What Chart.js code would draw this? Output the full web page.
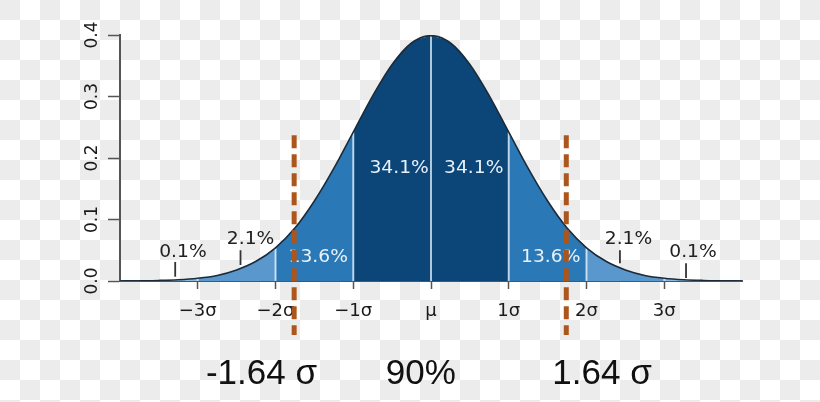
<!DOCTYPE html>
<html>
<head>
<meta charset="utf-8">
<script src="https://cdn.jsdelivr.net/npm/chart.js@4.4.1/dist/chart.umd.min.js"></script>
<style>
  html, body { margin: 0; padding: 0; }
  body {
    width: 820px; height: 402px; overflow: hidden;
    background-color: #ffffff;
    background-image: conic-gradient(#ffffff 25%, #ececec 0 50%, #ffffff 0 75%, #ececec 0);
    background-size: 40px 40px;
  }
  canvas { display: block; }
</style>
</head>
<body>
<canvas id="bellChart" width="820" height="402"></canvas>
<script>
// Standard normal curve (x in sigma units)
const sigmaX = [-4, -3.75, -3.5, -3.25, -3, -2.75, -2.5, -2.25, -2, -1.75, -1.5, -1.25, -1, -0.75, -0.5, -0.25,
                0, 0.25, 0.5, 0.75, 1, 1.25, 1.5, 1.75, 2, 2.25, 2.5, 2.75, 3, 3.25, 3.5, 3.75, 4];
const density = [0.0001, 0.0004, 0.0009, 0.002, 0.0044, 0.009, 0.018, 0.032, 0.054, 0.086, 0.130, 0.183, 0.242, 0.301, 0.352, 0.387,
                 0.399, 0.387, 0.352, 0.301, 0.242, 0.183, 0.130, 0.086, 0.054, 0.032, 0.018, 0.009, 0.0044, 0.002, 0.0009, 0.0004, 0.0001];

// band edges and their fill colours
const bandEdges = [-4, -3, -2, -1, 0, 1, 2, 3, 4];
const bandColors = ['#8fbbe0', '#5a97cc', '#2a79b6', '#0c4678', '#0c4678', '#2a79b6', '#5a97cc', '#8fbbe0'];

// x axis tick labels for -3..3
const xTickLabels = ['\u22123\u03c3', '\u22122\u03c3', '\u22121\u03c3', '\u03bc', '1\u03c3', '2\u03c3', '3\u03c3'];
const yTicks = [0, 0.1, 0.2, 0.3, 0.4];

// percentage labels: [text, x, y, colour]
const pctLabels = [
  ['0.1%', -3.19, 0.046, '#222'],
  ['2.1%', -2.32, 0.067, '#222'],
  ['13.6%', -1.45, 0.038, '#e8f1fa'],
  ['34.1%', -0.41, 0.183, '#e8f1fa'],
  ['34.1%', 0.55, 0.183, '#e8f1fa'],
  ['13.6%', 1.54, 0.038, '#e8f1fa'],
  ['2.1%', 2.54, 0.067, '#222'],
  ['0.1%', 3.37, 0.046, '#222']
];
// little pointer marks for the outside labels: [x, yFrom, yTo]
const pointerMarks = [[-3.29, 0.007, 0.031], [-2.45, 0.026, 0.050], [2.43, 0.029, 0.050], [3.28, 0.005, 0.029]];

// the hand drawn 90% limits
const cutX = [-1.76, 1.74];
const cutY = [0.237, -0.088];
const bottomLabels = [['-1.64 \u03c3', -2.18], ['90%', -0.13], ['1.64 \u03c3', 2.2]];

const datasets = [];

// filled bands (drawn first: highest order)
for (let b = 0; b < bandEdges.length - 1; b++) {
  const pts = [];
  for (let i = 0; i < sigmaX.length; i++) {
    if (sigmaX[i] >= bandEdges[b] && sigmaX[i] <= bandEdges[b + 1]) pts.push({ x: sigmaX[i], y: density[i] });
  }
  datasets.push({
    data: pts,
    order: 10,
    fill: 'origin',
    backgroundColor: bandColors[b],
    borderWidth: 0,
    pointRadius: 0,
    cubicInterpolationMode: 'monotone'
  });
}

// white dividers at each sigma
for (let i = 0; i < sigmaX.length; i++) {
  const v = sigmaX[i];
  if (Number.isInteger(v) && Math.abs(v) <= 3) {
    datasets.push({
      data: [{ x: v, y: 0 }, { x: v, y: density[i] }],
      order: 8,
      borderColor: 'rgba(215,232,248,0.8)',
      borderWidth: 2,
      pointRadius: 0,
      fill: false
    });
  }
}

// curve outline
const outlineIndex = datasets.length;
datasets.push({
  data: sigmaX.map((x, i) => ({ x: x, y: density[i] })),
  order: 6,
  borderColor: '#1c2b3a',
  borderWidth: 1.6,
  pointRadius: 0,
  fill: false,
  cubicInterpolationMode: 'monotone'
});

// pointer marks
pointerMarks.forEach(m => {
  datasets.push({
    data: [{ x: m[0], y: m[1] }, { x: m[0], y: m[2] }],
    order: 5,
    borderColor: '#333',
    borderWidth: 1.8,
    pointRadius: 0,
    fill: false
  });
});

// dashed limits, on top of everything
cutX.forEach(x => {
  datasets.push({
    data: [{ x: x, y: cutY[0] }, { x: x, y: cutY[1] }],
    order: 1,
    borderColor: '#ad561c',
    borderWidth: 5,
    borderDash: [13, 6],
    pointRadius: 0,
    fill: false,
    clip: false
  });
});

const labelPlugin = {
  id: 'labelPlugin',
  afterDatasetDraw(chart, args) {
    if (args.index !== outlineIndex) return;
    const ctx = chart.ctx;
    const xs = chart.scales.x, ys = chart.scales.y;
    ctx.save();
    ctx.textAlign = 'center';
    ctx.textBaseline = 'middle';
    ctx.font = '17px "DejaVu Sans"';
    pctLabels.forEach(l => {
      ctx.save();
      ctx.translate(xs.getPixelForValue(l[1]), ys.getPixelForValue(l[2]));
      ctx.scale(1.1, 1);
      ctx.fillStyle = l[3];
      ctx.fillText(l[0], 0, 0);
      ctx.restore();
    });
    ctx.restore();
  },
  afterDatasetsDraw(chart) {
    const ctx = chart.ctx;
    const xs = chart.scales.x;
    ctx.save();
    ctx.textAlign = 'center';
    ctx.textBaseline = 'middle';
    ctx.font = '35px "Liberation Sans", Arial, sans-serif';
    ctx.fillStyle = '#111';
    bottomLabels.forEach(l => {
      ctx.fillText(l[0], xs.getPixelForValue(l[1]), 374);
    });
    ctx.restore();
  }
};

window.onload = function() {
  const ctx = document.getElementById('bellChart').getContext('2d');
  new Chart(ctx, {
    type: 'line',
    data: { datasets: datasets },
    options: {
      responsive: false,
      animation: false,
      layout: { padding: { top: 35, right: 78, left: 0, bottom: 0 } },
      plugins: { legend: { display: false }, tooltip: { enabled: false } },
      scales: {
        x: {
          type: 'linear',
          min: -4,
          max: 4,
          afterBuildTicks: axis => { axis.ticks = axis.ticks.filter(t => Math.abs(t.value) <= 3); },
          afterFit: axis => { axis.height = 121; },
          ticks: {
            stepSize: 1,
            maxRotation: 0,
            padding: 12,
            color: '#1a1a1a',
            font: { family: 'DejaVu Sans', size: 18 },
            callback: v => xTickLabels[v + 3]
          },
          grid: { drawOnChartArea: false, tickLength: 8, color: '#555', tickWidth: 1.5 },
          border: { color: '#555', width: 2 }
        },
        y: {
          min: 0,
          max: 0.4,
          afterBuildTicks: axis => { axis.ticks = yTicks.map(v => ({ value: v })); },
          afterFit: axis => { axis.width = 120; },
          ticks: {
            minRotation: 90,
            maxRotation: 90,
            crossAlign: 'center',
            padding: 2,
            color: '#1a1a1a',
            font: { family: 'DejaVu Sans', size: 17 },
            callback: v => v.toFixed(1)
          },
          grid: { drawOnChartArea: false, tickLength: 12, color: '#555', tickWidth: 1.5 },
          border: { color: '#555', width: 2 }
        }
      }
    },
    plugins: [labelPlugin]
  });
};
</script>
</body>
</html>
